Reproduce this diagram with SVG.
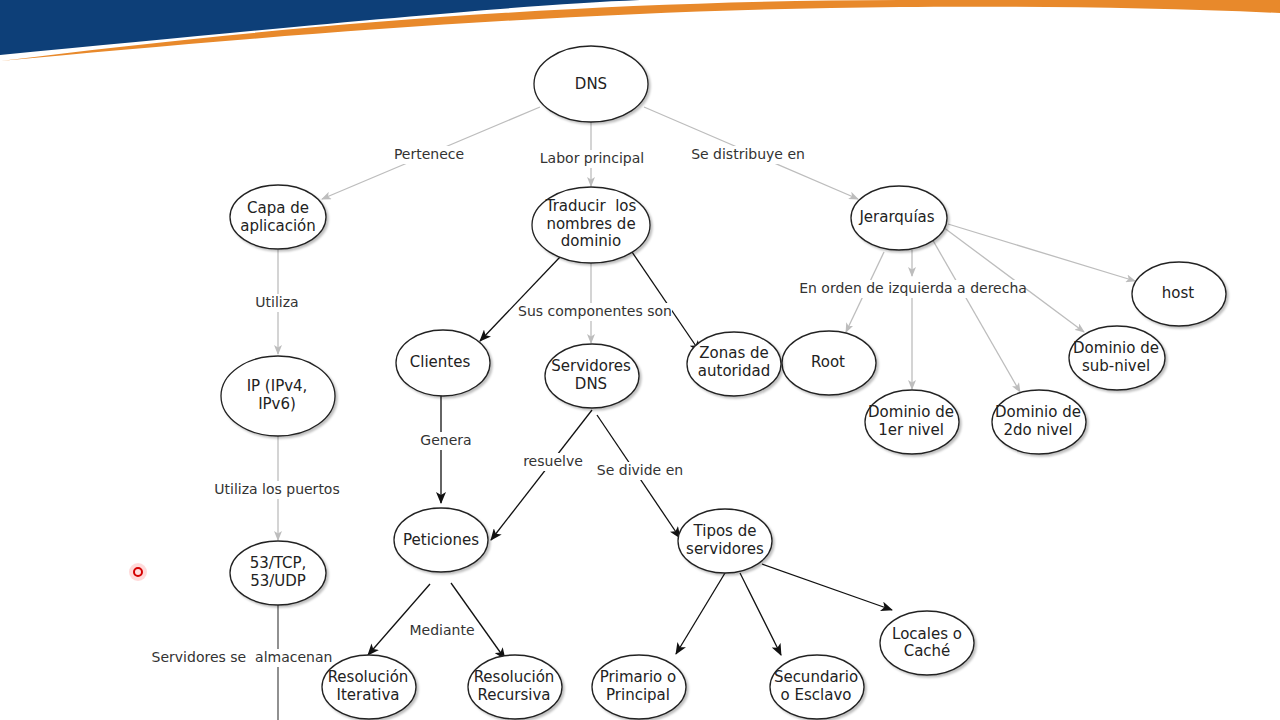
<svg xmlns="http://www.w3.org/2000/svg" width="1280" height="720" viewBox="0 0 1280 720">
<style>
  .node ellipse { fill: #ffffff; stroke: #222222; stroke-width: 1.3; filter: url(#sh); }
  .node text { font-family: "DejaVu Sans", Verdana, sans-serif; font-size: 15px; fill: #222222; text-anchor: middle; }
  .lbl { font-family: "DejaVu Sans", Verdana, sans-serif; font-size: 14px; fill: #333333; text-anchor: middle; }
  .g { stroke: #bdbdbd; stroke-width: 1.3; fill: none; marker-end: url(#ag); }
  .b { stroke: #111111; stroke-width: 1.3; fill: none; marker-end: url(#ab); }
  .bg { fill: #ffffff; }
</style>
<defs>
  <filter id="sh" x="-20%" y="-20%" width="150%" height="150%">
    <feDropShadow dx="2" dy="2" stdDeviation="1.2" flood-color="#000000" flood-opacity="0.25"/>
  </filter>
  <marker id="ab" viewBox="0 0 12 10" refX="11" refY="5" markerWidth="12" markerHeight="10" markerUnits="userSpaceOnUse" orient="auto">
    <path d="M0,0 L12,5 L0,10 L3,5 Z" fill="#111111"/>
  </marker>
  <marker id="ag" viewBox="0 0 10 8" refX="9" refY="4" markerWidth="10" markerHeight="8" markerUnits="userSpaceOnUse" orient="auto">
    <path d="M0,0 L10,4 L0,8 L2.5,4 Z" fill="#bdbdbd"/>
  </marker>
</defs>
<rect width="1280" height="720" fill="#ffffff"/>
<g id="banner">
  <path d="M0,0 H640 C520,5 320,24 0,55 Z" fill="#0d3f78"/>
  <path d="M0,61 C250,30 550,1 900,0 L1280,0 L1280,13 C1150,7 1000,6 900,7 C560,10 250,38 0,61 Z" fill="#e8892b"/>
</g>
<g id="connectors">
  <path class="g" d="M540,107 L322,199"/>
  <path class="g" d="M591,122 L591,186"/>
  <path class="g" d="M644,107 L858,199"/>
  <path class="g" d="M278,250 L278,354"/>
  <path class="g" d="M278,436 L278,540"/>
  <path class="g" d="M591,263 L591,343"/>
  <path class="g" d="M884,252 L846,332"/>
  <path class="g" d="M912,250 L912,276"/>
  <path class="g" d="M912,298 L912,389"/>
  <path class="g" d="M931,237 L1020,392"/>
  <path class="g" d="M943,227 L1084,332"/>
  <path class="g" d="M948,224 L1135,281"/>
  <path class="b" d="M560,257 L480,341"/>
  <path class="b" d="M632,252 L700,352"/>
  <path class="b" d="M441,396 L441,503"/>
  <path class="b" d="M592,410 L491,540"/>
  <path class="b" d="M597,415 L680,538"/>
  <path class="b" d="M430,584 L368,655"/>
  <path class="b" d="M451,583 L505,659"/>
  <path class="b" d="M725,573 L676,654"/>
  <path class="b" d="M740,573 L781,655"/>
  <path class="b" d="M762,564 L892,610"/>
  <path d="M278,605 L278,720" stroke="#555555" stroke-width="1.3" fill="none"/>
  <rect class="bg" x="389" y="146" width="80" height="18"/>
  <text class="lbl" x="429" y="159">Pertenece</text>
  <rect class="bg" x="540" y="150" width="104" height="18"/>
  <text class="lbl" x="592" y="163">Labor principal</text>
  <rect class="bg" x="684" y="146" width="128" height="18"/>
  <text class="lbl" x="748" y="159">Se distribuye en</text>
  <rect class="bg" x="250" y="294" width="54" height="18"/>
  <text class="lbl" x="277" y="307">Utiliza</text>
  <rect class="bg" x="206" y="481" width="142" height="18"/>
  <text class="lbl" x="277" y="494">Utiliza los puertos</text>
  <rect class="bg" x="152" y="649" width="180" height="18"/>
  <text class="lbl" x="242" y="662" xml:space="preserve">Servidores se  almacenan</text>
  <rect class="bg" x="518" y="303" width="154" height="18"/>
  <text class="lbl" x="595" y="316">Sus componentes son</text>
  <rect class="bg" x="801" y="280" width="224" height="18"/>
  <text class="lbl" x="913" y="293">En orden de izquierda a derecha</text>
  <rect class="bg" x="418" y="432" width="56" height="18"/>
  <text class="lbl" x="446" y="445">Genera</text>
  <rect class="bg" x="521" y="453" width="64" height="18"/>
  <text class="lbl" x="553" y="466">resuelve</text>
  <rect class="bg" x="594" y="462" width="92" height="18"/>
  <text class="lbl" x="640" y="475">Se divide en</text>
  <text class="lbl" x="442" y="635">Mediante</text>
</g>
<g id="n-dns" class="node"><ellipse cx="591" cy="84" rx="57" ry="38"/><text x="591" y="89">DNS</text></g>
<g id="n-capa" class="node"><ellipse cx="278" cy="217" rx="48" ry="32"/><text x="278" y="213">Capa de</text><text x="278" y="231">aplicación</text></g>
<g id="n-traducir" class="node"><ellipse cx="591" cy="225" rx="59" ry="38"/><text x="591" y="211" xml:space="preserve">Traducir  los</text><text x="591" y="229">nombres de</text><text x="591" y="246">dominio</text></g>
<g id="n-jerarquias" class="node"><ellipse cx="899" cy="218" rx="48" ry="32"/><text x="897" y="222">Jerarquías</text></g>
<g id="n-host" class="node"><ellipse cx="1179" cy="294" rx="47" ry="32"/><text x="1178" y="298">host</text></g>
<g id="n-root" class="node"><ellipse cx="829" cy="363" rx="47" ry="32"/><text x="828" y="367">Root</text></g>
<g id="n-zonas" class="node"><ellipse cx="734" cy="364" rx="47" ry="32"/><text x="734" y="358">Zonas de</text><text x="734" y="376">autoridad</text></g>
<g id="n-subnivel" class="node"><ellipse cx="1117" cy="358" rx="48" ry="32"/><text x="1116" y="353">Dominio de</text><text x="1116" y="371">sub-nivel</text></g>
<g id="n-1er" class="node"><ellipse cx="912" cy="422" rx="47" ry="32"/><text x="911" y="417">Dominio de</text><text x="911" y="435">1er nivel</text></g>
<g id="n-2do" class="node"><ellipse cx="1039" cy="422" rx="47" ry="32"/><text x="1038" y="417">Dominio de</text><text x="1038" y="435">2do nivel</text></g>
<g id="n-clientes" class="node"><ellipse cx="443" cy="363" rx="47" ry="33"/><text x="440" y="367">Clientes</text></g>
<g id="n-servdns" class="node"><ellipse cx="592" cy="376" rx="47" ry="32"/><text x="591" y="371">Servidores</text><text x="591" y="389">DNS</text></g>
<g id="n-ip" class="node"><ellipse cx="278" cy="396" rx="57" ry="40"/><text x="277" y="391">IP (IPv4,</text><text x="277" y="409">IPv6)</text></g>
<g id="n-peticiones" class="node"><ellipse cx="441" cy="540" rx="47" ry="32"/><text x="441" y="545">Peticiones</text></g>
<g id="n-tipos" class="node"><ellipse cx="725" cy="541" rx="47" ry="32"/><text x="725" y="536">Tipos de</text><text x="725" y="554">servidores</text></g>
<g id="n-puertos" class="node"><ellipse cx="278" cy="573" rx="48" ry="32"/><text x="278" y="568">53/TCP,</text><text x="278" y="586">53/UDP</text></g>
<g id="n-iterativa" class="node"><ellipse cx="369" cy="687" rx="47" ry="32"/><text x="368" y="682">Resolución</text><text x="368" y="700">Iterativa</text></g>
<g id="n-recursiva" class="node"><ellipse cx="515" cy="687" rx="47" ry="32"/><text x="514" y="682">Resolución</text><text x="514" y="700">Recursiva</text></g>
<g id="n-primario" class="node"><ellipse cx="639" cy="687" rx="47" ry="32"/><text x="638" y="682">Primario o</text><text x="638" y="700">Principal</text></g>
<g id="n-secundario" class="node"><ellipse cx="817" cy="687" rx="47" ry="32"/><text x="816" y="682">Secundario</text><text x="816" y="700">o Esclavo</text></g>
<g id="n-locales" class="node"><ellipse cx="927" cy="643" rx="47" ry="32"/><text x="927" y="639">Locales o</text><text x="927" y="656">Caché</text></g>
<g id="pointer">
  <circle cx="138" cy="572" r="9" fill="#ff3030" fill-opacity="0.18"/>
  <circle cx="138" cy="572" r="4" fill="#ffe0e0" stroke="#d40000" stroke-width="2"/>
</g>
</svg>
